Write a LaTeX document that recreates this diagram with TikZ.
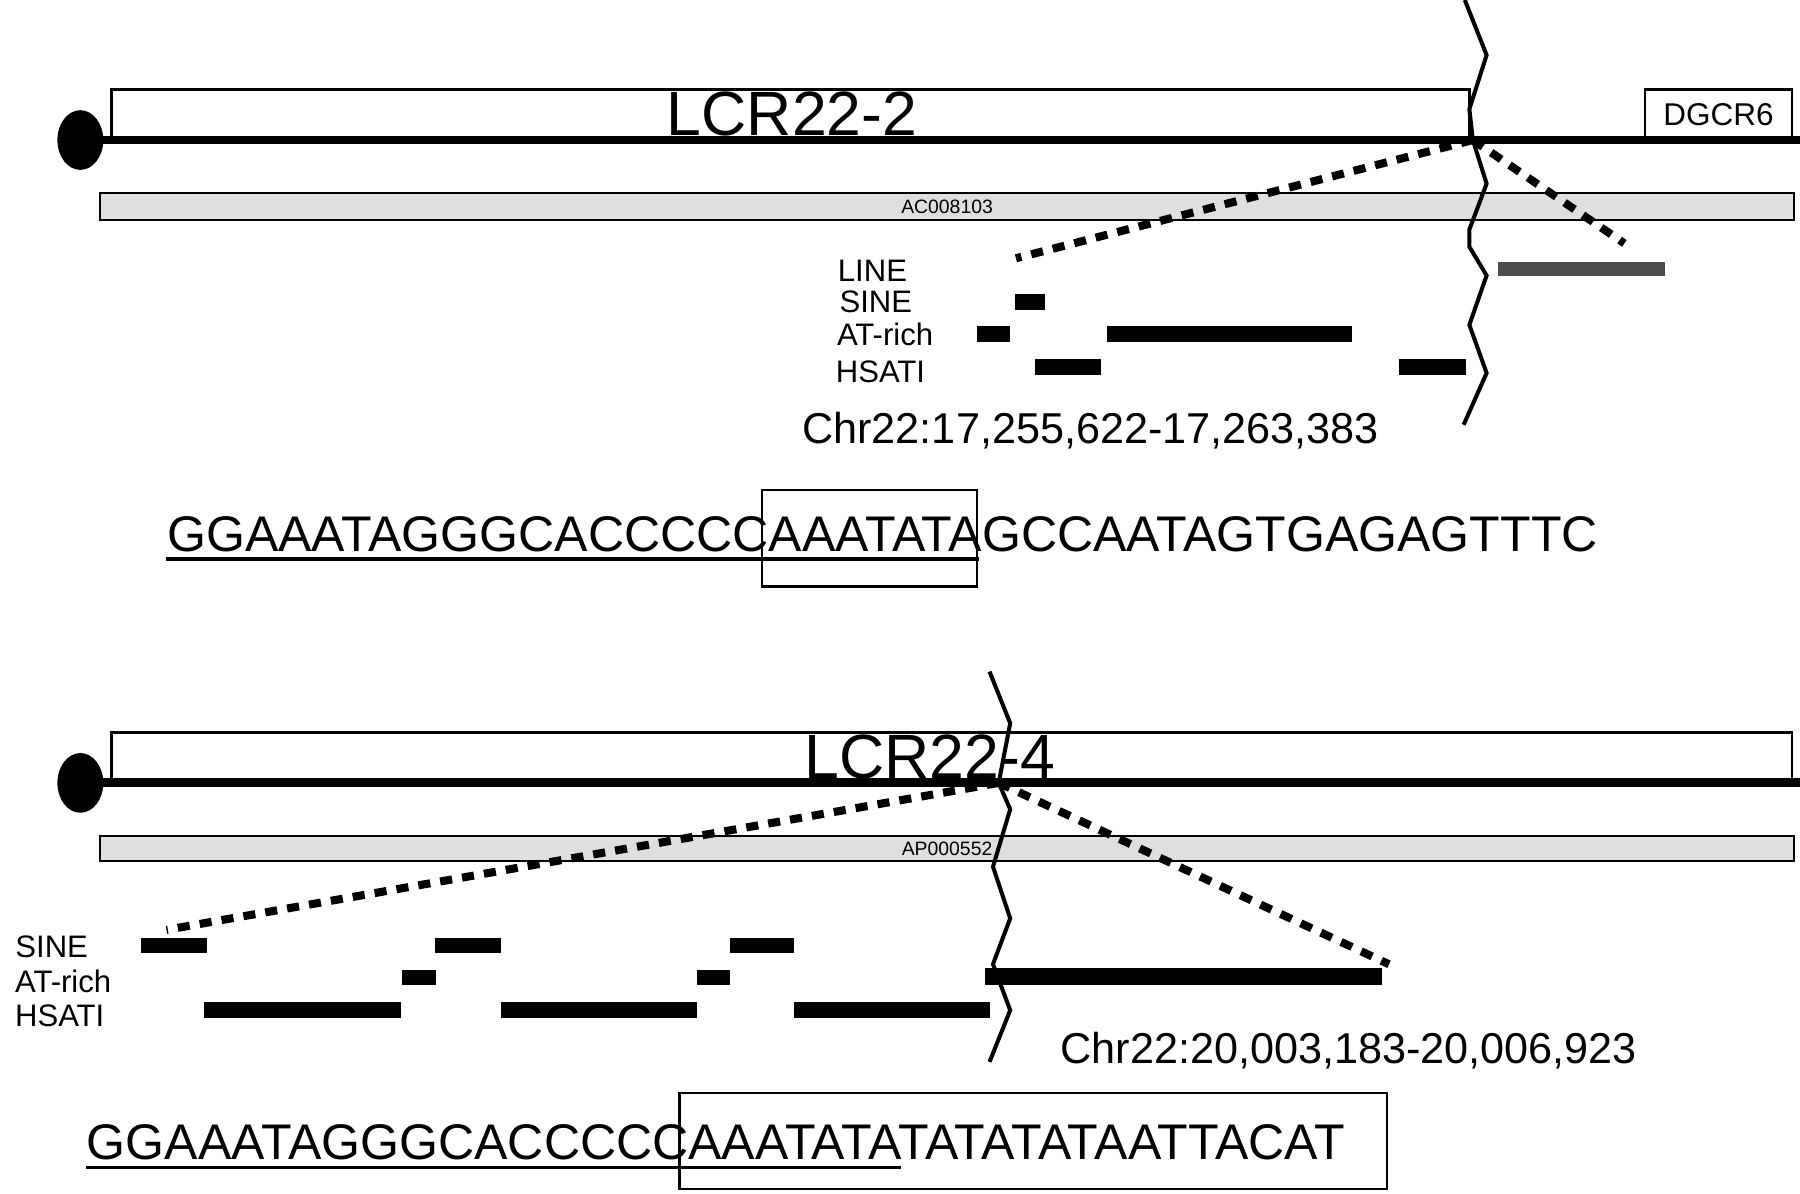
\documentclass[tikz,border=0pt]{standalone}
\usepackage{fontspec}
\setmainfont{Liberation Sans}
\tikzset{
  chrom/.style={line width=2.2pt},
  lcrbox/.style={draw, line width=0.6pt, fill=white},
  clone/.style={draw, line width=0.5pt, fill=gray!25},
  rep/.style={fill=black},
  zoomline/.style={line width=2pt, dash pattern=on 3pt off 2.5pt},
  brk/.style={line width=1pt},
  lab/.style={font=\fontsize{7.7}{9}\selectfont},
  big/.style={font=\fontsize{15.5}{17}\selectfont},
  coordlab/.style={font=\fontsize{10.7}{12}\selectfont},
  seq/.style={font=\fontsize{12.4}{14}\selectfont, anchor=west, inner sep=0pt}
}
\begin{document}
\begin{tikzpicture}[x=0.01cm, y=-0.01cm]
  \useasboundingbox (0,0) rectangle (1568,1040);

  % Top panel: LCR22-2
  \fill (70,122) ellipse (20 and 26);
  \draw[lcrbox] (97,78) rectangle (1280,122);
  \node[big] (lcr2lab) at (690,99) {LCR22-2};
  \draw[lcrbox] (1433,78) rectangle (1561,122);
  \node[font=\fontsize{7.8}{9}\selectfont] (dgcr) at (1497,100) {DGCR6};
  \coordinate (c2a) at (70,122);
  \coordinate (c2b) at (1568,122);
  \draw[chrom] (c2a) -- (c2b);
  \draw[clone] (87,168) rectangle (1563,192);
  \node[font=\fontsize{4.8}{5}\selectfont] (ac) at (825,180) {AC008103};
  \draw[brk] (1276,0) -- (1295,48) -- (1280,95) -- (1283,122) -- (1295,160)
    -- (1280,200) -- (1280,215) -- (1295,240) -- (1280,283) -- (1295,325) -- (1275,370);
  \coordinate (z2) at (1283,122);
  \coordinate (z2l) at (885,225);
  \coordinate (z2r) at (1415,212);
  \draw[zoomline] (z2) -- (z2l);
  \draw[zoomline] (z2) -- (z2r);
  \fill[gray!60!black] (1305,228) rectangle (1450,240);
  \node[lab] (line2) at (760,236) {LINE};
  \node[lab] (sine2) at (763,263) {SINE};
  \node[lab] (at2) at (771,291) {AT-rich};
  \node[lab] (hsat2) at (767,324) {HSATI};
  \fill[rep] (884,256) rectangle (910,270);
  \fill[rep] (851,284) rectangle (880,298);
  \fill[rep] (964,284) rectangle (1178,298);
  \fill[rep] (902,313) rectangle (959,327);
  \fill[rep] (1219,313) rectangle (1277,327);
  \node[coordlab] (pos2) at (950,375) {Chr22:17,255,622-17,263,383};
  \node[seq] (seq2) at (145,465) {GGAAATAGGGCACCCCCAAATATAGCCAATAGTGAGAGTTTC};
  \draw[line width=0.8pt] (145,487) -- (853,487);
  \draw[line width=0.6pt] (664,427) rectangle (851,511);

  % Bottom panel: LCR22-4
  \fill (70,682) ellipse (20 and 26);
  \draw[lcrbox] (97,638) rectangle (1561,682);
  \node[big] (lcr4lab) at (810,659) {LCR22-4};
  \coordinate (c4a) at (70,682);
  \coordinate (c4b) at (1568,682);
  \draw[chrom] (c4a) -- (c4b);
  \draw[clone] (87,728) rectangle (1563,750);
  \node[font=\fontsize{4.8}{5}\selectfont] (ap) at (825,739) {AP000552};
  \draw[brk] (862,585) -- (880,630) -- (870,682) -- (880,705) -- (865,755)
    -- (880,800) -- (865,840) -- (880,880) -- (862,925);
  \coordinate (z4) at (870,682);
  \coordinate (z4l) at (145,810);
  \coordinate (z4r) at (1210,840);
  \draw[zoomline] (z4) -- (z4l);
  \draw[zoomline] (z4) -- (z4r);
  \node[lab] (sine4) at (45,825) {SINE};
  \node[lab] (at4) at (55,855) {AT-rich};
  \node[lab] (hsat4) at (52,885) {HSATI};
  \foreach \xa/\xb in {123/180, 379/436, 636/692}
    \fill[rep] (\xa,817) rectangle (\xb,830);
  \foreach \xa/\xb in {350/380, 607/636}
    \fill[rep] (\xa,845) rectangle (\xb,858);
  \foreach \xa/\xb in {178/349, 436/607, 692/862}
    \fill[rep] (\xa,873) rectangle (\xb,887);
  \fill[rep] (858,843) rectangle (1204,858);
  \node[coordlab] (pos4) at (1175,915) {Chr22:20,003,183-20,006,923};
  \node[seq] (seq4) at (75,995) {GGAAATAGGGCACCCCCAAATATATATATATAATTACAT};
  \draw[line width=0.8pt] (75,1017) -- (785,1017);
  \draw[line width=0.6pt] (592,952) rectangle (1208,1036);
\end{tikzpicture}
\end{document}
